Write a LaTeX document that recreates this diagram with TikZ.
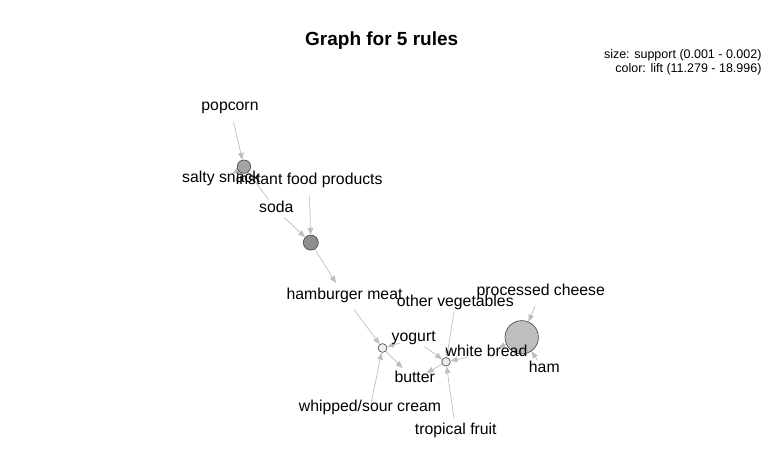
\documentclass[tikz,border=0pt]{standalone}
\usepackage{fontspec}
\setmainfont{Liberation Sans}
\usepackage{tikz}
\usetikzlibrary{arrows.meta}
\usepackage{xcolor}

\definecolor{edgegrey}{RGB}{190,190,190}
\definecolor{liftA}{RGB}{163,163,163}
\definecolor{liftB}{RGB}{143,143,143}
\definecolor{liftC}{RGB}{238,238,238}
\definecolor{liftD}{RGB}{236,236,236}
\definecolor{liftE}{RGB}{190,190,190}

\pgfdeclarelayer{bg}
\pgfsetlayers{bg,main}

\tikzset{
    item/.style={font=\fontsize{15.8}{18}\selectfont, inner sep=0pt, anchor=base},
    rule/.style={circle, draw=black!75, line width=0.6pt, inner sep=0pt, minimum size=#1},
    edge/.style={draw=edgegrey, line width=0.7pt, -{Triangle[length=7pt,width=5.5pt,fill=edgegrey]}}
}

\begin{document}
\begin{tikzpicture}[x=1pt,y=-1pt]

\useasboundingbox (0,0) rectangle (766,461);

% title and legend
{
\node[font=\fontsize{19}{22}\selectfont\bfseries, anchor=base] (title) at (381.7,45) {Graph for 5 rules};

\node[font=\fontsize{12.5}{14}\selectfont, anchor=base east, inner sep=0pt] (sizekey) at (761.7,58.7) {size: support (0.001 - 0.002)};
\node[font=\fontsize{12.5}{14}\selectfont, anchor=base east, inner sep=0pt] (colorkey) at (761.7,72) {color: lift (11.279 - 18.996)};
}

% rules
{
\node[rule=13.4pt, fill=liftA] (r1) at (244,166.7) {};
\node[rule=15pt, fill=liftB] (r2) at (310.8,242.6) {};
\node[rule=8.8pt, fill=liftC] (r3) at (382.5,348) {};
\node[rule=8.6pt, fill=liftD] (r4) at (446,361.8) {};
\node[rule=33.4pt, fill=liftE] (r5) at (521.7,337.3) {};
}

% items
{
\node[item] (popcorn) at (230,110) {popcorn};
\node[item] (saltysnack) at (221.3,182.7) {salty snack};
\node[item] (instant) at (309.2,184.3) {instant food products};
\node[item] (soda) at (276.3,212.7) {soda};
\node[item] (hamburger) at (344.5,299.3) {hamburger meat};
\node[item] (othervegetables) at (455.3,306.7) {other vegetables};
\node[item] (processedcheese) at (540.8,295.7) {processed cheese};
\node[item] (yogurt) at (413.7,341.7) {yogurt};
\node[item] (whitebread) at (486.5,356) {white bread};
\node[item] (ham) at (544.3,372.7) {ham};
\node[item] (butter) at (414.7,382.7) {butter};
\node[item] (whipped) at (370,411) {whipped/sour cream};
\node[item] (tropical) at (455.8,434) {tropical fruit};
}

% edges
\begin{pgfonlayer}{bg}
\draw[edge, shorten <=15pt] (popcorn.mid) -- (r1);
\draw[edge, shorten <=13pt] (soda.mid) -- (r1);
\draw[edge, shorten >=13pt] (r1) -- (saltysnack.mid);

\draw[edge, shorten <=11pt] (soda.mid) -- (r2);
\draw[edge, shorten <=14pt] (instant.mid) -- (r2);
\draw[edge, shorten >=16pt] (r2) -- (hamburger.mid);

\draw[edge, shorten <=15.5pt] (hamburger.mid) -- (r3);
\draw[edge, shorten <=5pt] (whipped.mid) -- (r3);
\draw[edge, shorten <=14pt] (yogurt.mid) -- (r3);
\draw[edge, shorten >=17pt] (r3) -- (butter.mid);

\draw[edge, shorten <=13pt] (yogurt.mid) -- (r4);
\draw[edge, shorten <=8pt] (othervegetables.mid) -- (r4);
\draw[edge, shorten <=13pt] (tropical.mid) -- (r4);
\draw[edge, shorten <=20pt] (whitebread.mid) -- (r4);
\draw[edge, shorten >=14pt] (r4) -- (butter.mid);

\draw[edge, shorten <=14pt] (processedcheese.mid) -- (r5);
\draw[edge, shorten >=13pt] (r5) -- (whitebread.mid);
\draw[edge, shorten <=12pt] (ham.mid) -- (r5);
\end{pgfonlayer}

\end{tikzpicture}
\end{document}
